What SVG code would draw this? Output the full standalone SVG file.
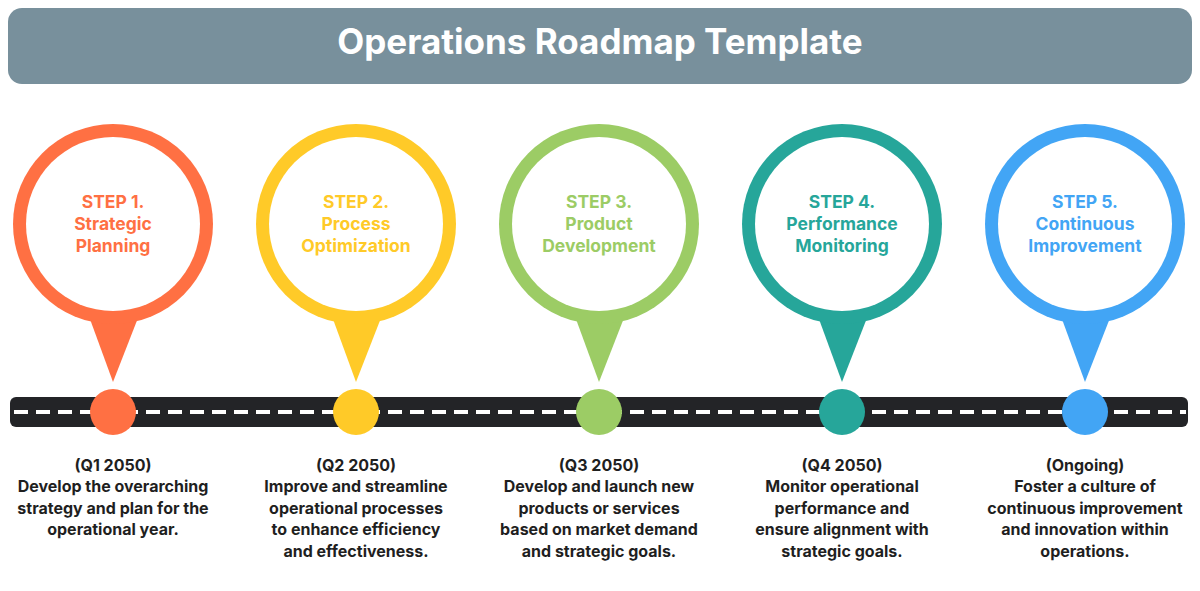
<svg xmlns="http://www.w3.org/2000/svg" width="1200" height="591" viewBox="0 0 1200 591">
<style>
.t{font-family:Inter,"Liberation Sans",sans-serif;font-weight:700;text-anchor:middle}
.st{font-size:17.5px}
.d{font-size:16px;fill:#1f1f1f}
</style>
<rect width="1200" height="591" fill="#fff"/>
<rect x="8" y="8" width="1184" height="76" rx="14" fill="#78909C"/>
<text class="t" x="600" y="54" font-size="35" fill="#fff">Operations Roadmap Template</text>
<g id="road">
<rect x="10" y="397" width="1178" height="30" rx="6" fill="#232427"/>
<line x1="14" y1="412" x2="1186" y2="412" stroke="#fff" stroke-width="4" stroke-dasharray="14 8"/>
</g>
<g id="connectors"/>
<g id="step1" fill="#FF7043">
<path d="M83 300 L145 300 L113 382 Z"/><circle cx="113" cy="224" r="100"/><circle cx="113" cy="224" r="87" fill="#fff"/><circle cx="113" cy="412" r="23"/>
<text class="t st" x="113" y="208">STEP 1.</text><text class="t st" x="113" y="230">Strategic</text><text class="t st" x="113" y="252">Planning</text>
<text class="t d" x="113" y="471">(Q1 2050)</text><text class="t d" x="113" y="492">Develop the overarching</text><text class="t d" x="113" y="514">strategy and plan for the</text><text class="t d" x="113" y="535">operational year.</text>
</g>
<g id="step2" fill="#FFCA28">
<path d="M326 300 L388 300 L356 382 Z"/><circle cx="356" cy="224" r="100"/><circle cx="356" cy="224" r="87" fill="#fff"/><circle cx="356" cy="412" r="23"/>
<text class="t st" x="356" y="208">STEP 2.</text><text class="t st" x="356" y="230">Process</text><text class="t st" x="356" y="252">Optimization</text>
<text class="t d" x="356" y="471">(Q2 2050)</text><text class="t d" x="356" y="492">Improve and streamline</text><text class="t d" x="356" y="514">operational processes</text><text class="t d" x="356" y="535">to enhance efficiency</text><text class="t d" x="356" y="557">and effectiveness.</text>
</g>
<g id="step3" fill="#9CCC65">
<path d="M569 300 L631 300 L599 382 Z"/><circle cx="599" cy="224" r="100"/><circle cx="599" cy="224" r="87" fill="#fff"/><circle cx="599" cy="412" r="23"/>
<text class="t st" x="599" y="208">STEP 3.</text><text class="t st" x="599" y="230">Product</text><text class="t st" x="599" y="252">Development</text>
<text class="t d" x="599" y="471">(Q3 2050)</text><text class="t d" x="599" y="492">Develop and launch new</text><text class="t d" x="599" y="514">products or services</text><text class="t d" x="599" y="535">based on market demand</text><text class="t d" x="599" y="557">and strategic goals.</text>
</g>
<g id="step4" fill="#26A69A">
<path d="M812 300 L874 300 L842 382 Z"/><circle cx="842" cy="224" r="100"/><circle cx="842" cy="224" r="87" fill="#fff"/><circle cx="842" cy="412" r="23"/>
<text class="t st" x="842" y="208">STEP 4.</text><text class="t st" x="842" y="230">Performance</text><text class="t st" x="842" y="252">Monitoring</text>
<text class="t d" x="842" y="471">(Q4 2050)</text><text class="t d" x="842" y="492">Monitor operational</text><text class="t d" x="842" y="514">performance and</text><text class="t d" x="842" y="535">ensure alignment with</text><text class="t d" x="842" y="557">strategic goals.</text>
</g>
<g id="step5" fill="#42A5F5">
<path d="M1055 300 L1117 300 L1085 382 Z"/><circle cx="1085" cy="224" r="100"/><circle cx="1085" cy="224" r="87" fill="#fff"/><circle cx="1085" cy="412" r="23"/>
<text class="t st" x="1085" y="208">STEP 5.</text><text class="t st" x="1085" y="230">Continuous</text><text class="t st" x="1085" y="252">Improvement</text>
<text class="t d" x="1085" y="471">(Ongoing)</text><text class="t d" x="1085" y="492">Foster a culture of</text><text class="t d" x="1085" y="514">continuous improvement</text><text class="t d" x="1085" y="535">and innovation within</text><text class="t d" x="1085" y="557">operations.</text>
</g>
</svg>
